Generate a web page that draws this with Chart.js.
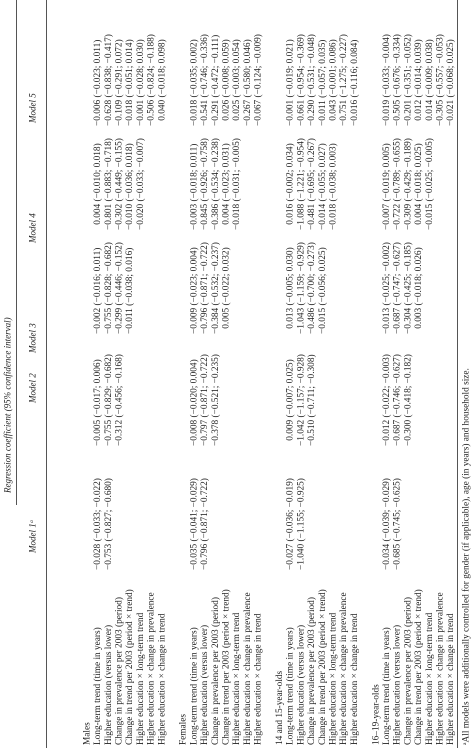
<!DOCTYPE html>
<html>
<head>
<meta charset="utf-8">
<script src="https://cdn.jsdelivr.net/npm/chart.js@4.4.1/dist/chart.umd.min.js"></script>
<style>
  html, body { margin: 0; padding: 0; background: #fff; overflow: hidden; }
  #wrap { position: absolute; left: 0; top: 748px; width: 748px; height: 474px;
          transform-origin: 0 0; transform: rotate(-90deg); }
</style>
</head>
<body>
<div id="wrap"><canvas id="tbl" width="748" height="474"></canvas></div>
<script>
// table is printed sideways, so it is drawn landscape and the canvas is rotated

const groups = ['Males', 'Females', '14 and 15-year-olds', '16\u201319-year-olds'];
const rowLabels = [
    'Long-term trend (time in years)',
    'Higher education (versus lower)',
    'Change in prevalence per 2003 (period)',
    'Change in trend per 2003 (period \u00d7 trend)',
    'Higher education \u00d7 long-term trend',
    'Higher education \u00d7 change in prevalence',
    'Higher education \u00d7 change in trend'
];
const models = ['Model 1\u1d43', 'Model 2', 'Model 3', 'Model 4', 'Model 5'];

const males = [
    ['-0.028 (-0.033; -0.022)', '-0.753 (-0.827; -0.680)'],
    ['-0.005 (-0.017; 0.006)', '-0.755 (-0.829; -0.682)', '-0.312 (-0.456; -0.168)'],
    ['-0.002 (-0.016; 0.011)', '-0.755 (-0.828; -0.682)', '-0.299 (-0.446; -0.152)', '-0.011 (-0.038; 0.016)'],
    ['0.004 (-0.010; 0.018)', '-0.801 (-0.883; -0.718)', '-0.302 (-0.449; -0.155)', '-0.010 (-0.036; 0.018)', '-0.020 (-0.033; -0.007)'],
    ['-0.006 (-0.023; 0.011)', '-0.628 (-0.838; -0.417)', '-0.109 (-0.291; 0.072)', '-0.018 (-0.051; 0.014)', '-0.001 (-0.028; 0.030)', '-0.506 (-0.824; -0.188)', '0.040 (-0.018; 0.098)']
];
const females = [
    ['-0.035 (-0.041; -0.029)', '-0.796 (-0.871; -0.722)'],
    ['-0.008 (-0.020; 0.004)', '-0.797 (-0.871; -0.722)', '-0.378 (-0.521; -0.235)'],
    ['-0.009 (-0.023; 0.004)', '-0.796 (-0.871; -0.722)', '-0.384 (-0.532; -0.237)', '0.005 (-0.022; 0.032)'],
    ['-0.003 (-0.018; 0.011)', '-0.845 (-0.926; -0.758)', '-0.386 (-0.534; -0.238)', '0.004 (-0.023; 0.031)', '-0.018 (-0.031; -0.005)'],
    ['-0.018 (-0.035; 0.002)', '-0.541 (-0.746; -0.336)', '-0.291 (-0.472; -0.111)', '0.026 (-0.008; 0.059)', '0.025 (-0.003; 0.054)', '-0.267 (-0.580; 0.046)', '-0.067 (-0.124; -0.009)']
];
const age14to15 = [
    ['-0.027 (-0.036; -0.019)', '-1.040 (-1.155; -0.925)'],
    ['0.009 (-0.007; 0.025)', '-1.042 (-1.157; -0.928)', '-0.510 (-0.711; -0.308)'],
    ['0.013 (-0.005; 0.030)', '-1.043 (-1.159; -0.929)', '-0.486 (-0.700; -0.273)', '-0.015 (-0.056; 0.025)'],
    ['0.016 (-0.002; 0.034)', '-1.088 (-1.221; -0.954)', '-0.481 (-0.695; -0.267)', '-0.014 (-0.055; 0.027)', '-0.018 (-0.038; 0.003)'],
    ['-0.001 (-0.019; 0.021)', '-0.661 (-0.954; -0.369)', '-0.290 (-0.531; -0.048)', '-0.011 (-0.057; 0.035)', '0.043 (-0.001; 0.086)', '-0.751 (-1.275; -0.227)', '-0.016 (-0.116; 0.084)']
];
const age16to19 = [
    ['-0.034 (-0.039; -0.029)', '-0.685 (-0.745; -0.625)'],
    ['-0.012 (-0.022; -0.003)', '-0.687 (-0.746; -0.627)', '-0.300 (-0.418; -0.182)'],
    ['-0.013 (-0.025; -0.002)', '-0.687 (-0.747; -0.627)', '-0.304 (-0.425; -0.185)', '0.003 (-0.018; 0.026)'],
    ['-0.007 (-0.019; 0.005)', '-0.722 (-0.789; -0.655)', '-0.309 (-0.429; -0.189)', '0.004 (-0.018; 0.025)', '-0.015 (-0.025; -0.005)'],
    ['-0.019 (-0.033; -0.004)', '-0.505 (-0.676; -0.334)', '-0.201 (-0.351; -0.052)', '0.012 (-0.014; 0.039)', '0.014 (-0.009; 0.038)', '-0.305 (-0.557; -0.053)', '-0.021 (-0.068; 0.025)']
];
const groupValues = [males, females, age14to15, age16to19];

const header = 'Regression coefficient (95% confidence interval)';
const footnote = '\u1d43All models were additionally controlled for gender (if applicable), age (in years) and household size.';

// layout (landscape pixels along x, table rows along y)
const colX = [178, 302, 414, 518, 622];
const headX = [195, 345, 395, 505, 625];
const labelX = 3;
const rowStart = 87, rowStep = 10.7;
const FONT = '9.3px "Liberation Serif", "DejaVu Serif", serif';
const ITALIC = 'italic 9px "Liberation Serif", "DejaVu Serif", serif';
const INK = '#222';

const rowsPerGroup = rowLabels.length + 2;
const cells = [];
const labels = [];
groups.forEach((g, gi) => {
    const base = gi * rowsPerGroup;
    labels.push({ x: labelX, y: base, text: g });
    rowLabels.forEach((r, ri) => labels.push({ x: labelX, y: base + 1 + ri, text: r }));
    groupValues[gi].forEach((col, mi) => {
        col.forEach((v, ri) => cells.push({ x: colX[mi], y: base + 1 + ri, text: v.replace(/-/g, '\u2212') }));
    });
});

const yMin = -rowStart / rowStep;
const yMax = (474 - rowStart) / rowStep;
const toRow = px => (px - rowStart) / rowStep;

const textPlugin = {
    id: 'tableText',
    afterDatasetsDraw(chart) {
        const ctx = chart.ctx;
        const xs = chart.scales.x, ys = chart.scales.y;
        ctx.save();
        ctx.fillStyle = INK;
        ctx.textBaseline = 'middle';
        ctx.textAlign = 'left';

        chart.data.datasets.forEach((ds, di) => {
            ctx.font = ds.italic ? ITALIC : FONT;
            const minus = ctx.measureText('\u2212').width;
            chart.getDatasetMeta(di).data.forEach((el, i) => {
                const t = ds.data[i].text;
                const off = ds.align && t[0] !== '\u2212' ? minus : 0;
                ctx.fillText(t, el.x + off, el.y);
            });
        });

        // rules
        ctx.strokeStyle = '#555';
        ctx.lineWidth = 1;
        const rule = (x0, x1, row) => {
            const y = Math.round(ys.getPixelForValue(row)) + 0.5;
            ctx.beginPath();
            ctx.moveTo(xs.getPixelForValue(x0), y);
            ctx.lineTo(xs.getPixelForValue(x1), y);
            ctx.stroke();
        };
        rule(243, 748, toRow(16));
        rule(0, 748, toRow(46));
        rule(0, 748, toRow(457));
        ctx.restore();
    }
};

new Chart(document.getElementById('tbl'), {
    type: 'scatter',
    data: {
        datasets: [
            { data: labels, italic: false },
            { data: cells, italic: false, align: true },
            { data: models.map((m, i) => ({ x: headX[i], y: toRow(33), text: m })), italic: true },
            { data: [{ x: 255, y: toRow(8), text: header }], italic: true },
            { data: [{ x: labelX, y: toRow(466), text: footnote }], italic: false }
        ]
    },
    options: {
        responsive: false,
        animation: false,
        devicePixelRatio: 2,
        layout: { padding: 0 },
        elements: { point: { radius: 0, hoverRadius: 0 } },
        plugins: { legend: { display: false }, tooltip: { enabled: false } },
        events: [],
        scales: {
            x: { type: 'linear', min: 0, max: 748, display: false },
            y: { type: 'linear', min: yMin, max: yMax, reverse: true, display: false }
        }
    },
    plugins: [textPlugin]
});
</script>
</body>
</html>
